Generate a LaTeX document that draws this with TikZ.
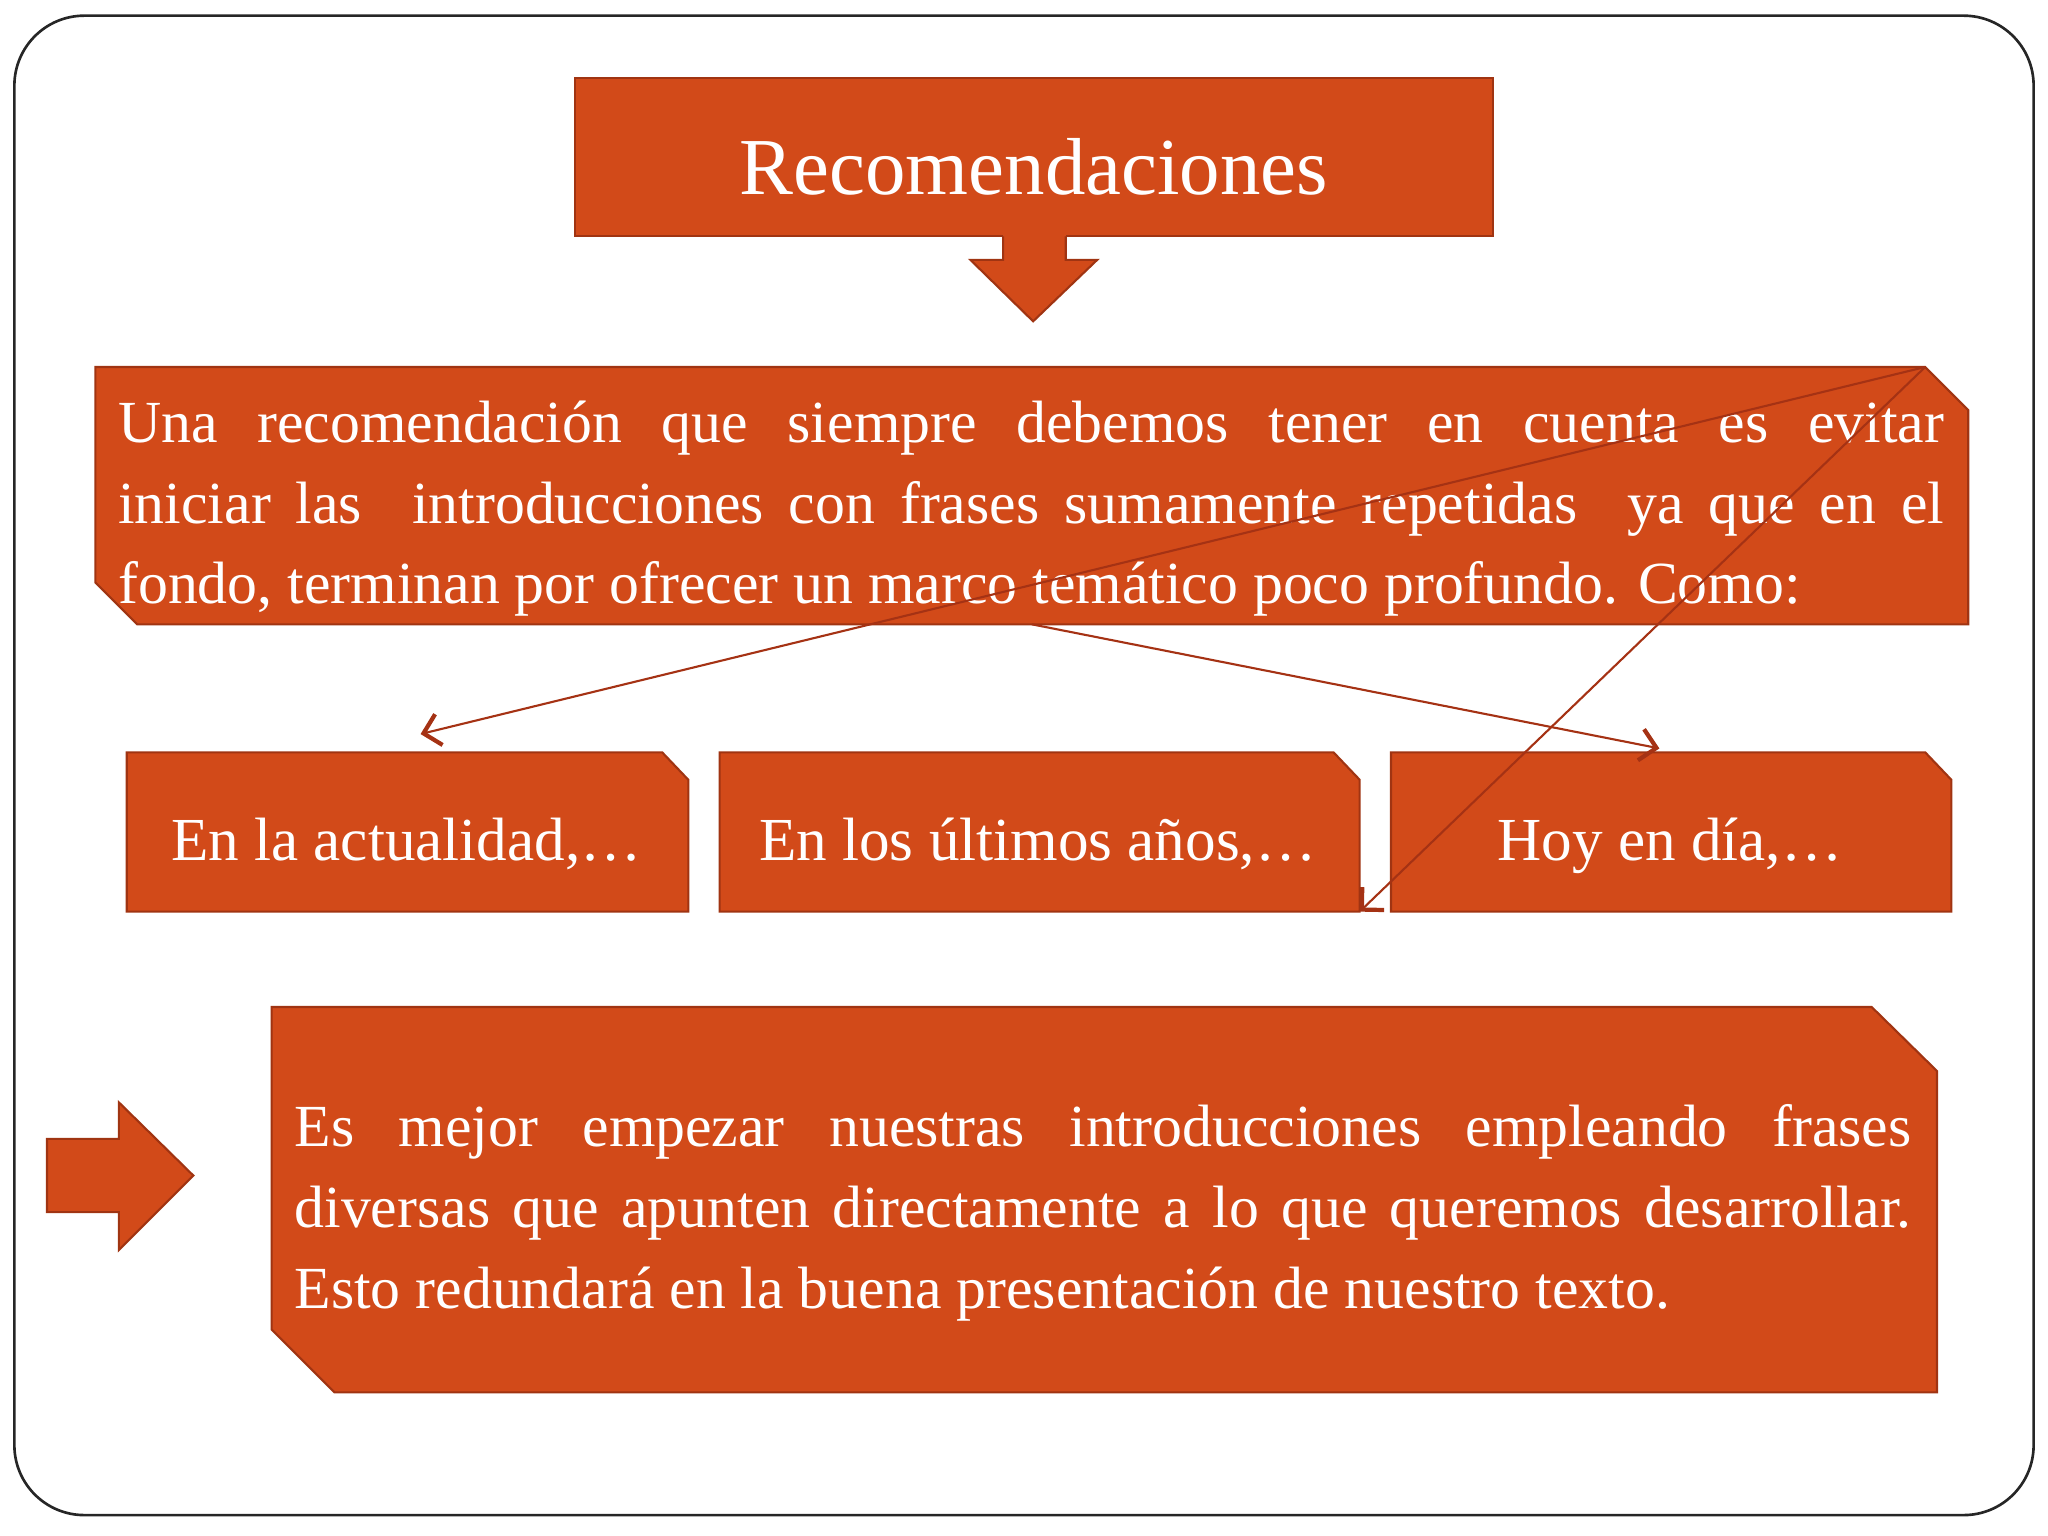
\documentclass[tikz,border=0pt]{standalone}
\usepackage{fontspec}
\setmainfont{Liberation Serif}
\usetikzlibrary{arrows.meta,calc,backgrounds}
\definecolor{boxfill}{RGB}{210,74,25}
\definecolor{boxedge}{RGB}{160,52,18}
\definecolor{linkcol}{RGB}{165,50,20}
\tikzset{
  frame/.style={draw=black!85, line width=0.75pt, rounded corners=0.7cm},
  panel/.style={draw=boxedge, fill=boxfill, line width=0.6pt, line join=miter},
  slot/.style={inner sep=0pt, outer sep=0pt},
  boxtext/.style={text=white, inner sep=0pt, font=\fontsize{17.4}{23}\selectfont},
  titletext/.style={text=white, inner sep=0pt, font=\fontsize{23}{28}\selectfont},
  para/.style={text=white, inner sep=0pt, align=justify, font=\fontsize{17}{23}\selectfont},
  link/.style={draw=linkcol, line width=0.6pt, -{Straight Barb[length=4.5pt,width=9pt,line width=1.2pt]}},
}
\begin{document}
\begin{tikzpicture}[x=0.013061cm,y=-0.013061cm]
\useasboundingbox (0,0) rectangle (1568,1176);
\draw[frame] (11,12) rectangle (1557,1160);

% box slots
\node[slot, minimum width=9.182cm, minimum height=1.580cm] (title) at (791.5,120.5) {};
\node[slot, minimum width=18.729cm, minimum height=2.573cm] (main) at (790,379.5) {};
\node[slot, minimum width=5.616cm, minimum height=1.593cm] (box1) at (312,637) {};
\node[slot, minimum width=6.400cm, minimum height=1.593cm] (box2) at (796,637) {};
\node[slot, minimum width=5.603cm, minimum height=1.593cm] (box3) at (1279.5,637) {};
\node[slot, minimum width=16.653cm, minimum height=3.853cm] (bottom) at (845.5,918.5) {};

\begin{scope}[on background layer]
\path[panel] (title.north west) rectangle (title.south east);
\path[panel] (main.north west) -- ($(main.north east)+(-33,0)$) -- ($(main.north east)+(0,33)$)
  -- (main.south east) -- ($(main.south west)+(32,0)$) -- ($(main.south west)+(0,-32)$) -- cycle;
\path[panel] (box1.north west) -- ($(box1.north east)+(-20,0)$) -- ($(box1.north east)+(0,21)$)
  -- (box1.south east) -- (box1.south west) -- cycle;
\path[panel] (box2.north west) -- ($(box2.north east)+(-20,0)$) -- ($(box2.north east)+(0,21)$)
  -- (box2.south east) -- (box2.south west) -- cycle;
\path[panel] (box3.north west) -- ($(box3.north east)+(-20,0)$) -- ($(box3.north east)+(0,21)$)
  -- (box3.south east) -- (box3.south west) -- cycle;
\path[panel] (bottom.north west) -- ($(bottom.north east)+(-50,0)$) -- ($(bottom.north east)+(0,49)$)
  -- (bottom.south east) -- ($(bottom.south west)+(48,0)$) -- ($(bottom.south west)+(0,-48)$) -- cycle;
\end{scope}

% block arrow below the title
\fill[boxfill] (768,179) -- (768,199) -- (743,199) -- (791,246) -- (840,199) -- (816,199) -- (816,179) -- cycle;
\draw[boxedge, line width=0.6pt] (768,181) -- (768,199) -- (743,199) -- (791,246) -- (840,199) -- (816,199) -- (816,181);

% block arrow on the left
\path[panel] (36,872) -- (91,872) -- (91,844) -- (148,900) -- (91,957) -- (91,928) -- (36,928) -- cycle;

% texts
\node[titletext, anchor=base] (t0) at (791.5,149) {Recomendaciones};
\node[para, text width=18.259cm, anchor=north west] (t1) at (90,294.7)
 {\hyphenpenalty=10000\exhyphenpenalty=10000\strut Una recomendación que siempre debemos tener en cuenta es evitar\linebreak
  iniciar las\ \ introducciones con frases sumamente repetidas\ \ ya que en el\linebreak
  fondo, terminan por ofrecer un marco temático poco profundo. Como:};
\node[boxtext, anchor=base] (t2) at (311,658.5) {En la actualidad,\ldots};
\node[boxtext, anchor=base] (t3) at (794.5,658.5) {En los últimos años,\ldots};
\node[boxtext, anchor=base] (t4) at (1278.5,658.5) {Hoy en día,\ldots};
\node[para, text width=16.169cm, anchor=north west] (t5) at (225,834.2)
 {\hyphenpenalty=10000\exhyphenpenalty=10000\strut Es mejor empezar nuestras introducciones empleando frases\linebreak
  diversas que apunten directamente a lo que queremos desarrollar.\linebreak
  Esto redundará en la buena presentación de nuestro texto.};

% connectors
\coordinate (mc) at ($(main.north east)+(-33,0)$);
\coordinate (b1in) at ($(box1.north)+(10,-14)$);
\coordinate (b3in) at ($(box3.north)+(-9,-3)$);
\draw[link] (mc) -- (b1in);
\draw[link] (mc) -- (box2.south east);
\draw[link] (main.south) -- (b3in);
\end{tikzpicture}
\end{document}
